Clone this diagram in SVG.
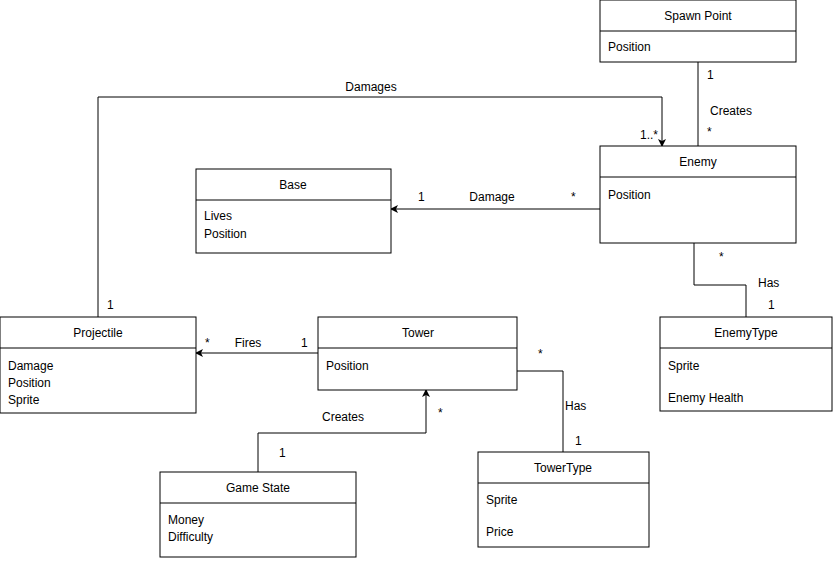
<svg xmlns="http://www.w3.org/2000/svg" width="834" height="563" viewBox="0 0 834 563">
<style>
rect{fill:#fff;stroke:#000;stroke-width:1}
.h{stroke:#000;stroke-width:1}
text{font-family:"Liberation Sans",Arial,sans-serif;font-size:12px;fill:#000}
.c{text-anchor:middle}
.e{fill:none;stroke:#000;stroke-width:1}
</style>
<defs><marker id="a" markerWidth="8" markerHeight="8" refX="7" refY="4" orient="auto" markerUnits="userSpaceOnUse"><path d="M0,0 L8,4 L0,8 L2,4 Z" fill="#000"/></marker></defs>
<rect x="0" y="0" width="834" height="563" style="stroke:none"/>
<g id="connectors">
<path class="e" d="M698,62 V146"/>
<path class="e" d="M98,317 V97 H662 V146" marker-end="url(#a)"/>
<path class="e" d="M600,209 H391" marker-end="url(#a)"/>
<path class="e" d="M694,243 V285 H746 V317"/>
<path class="e" d="M318,353 H196" marker-end="url(#a)"/>
<path class="e" d="M517,371 H563 V452"/>
<path class="e" d="M258,472 V433 H426 V390" marker-end="url(#a)"/>
<text x="707" y="79">1</text><text x="710" y="115">Creates</text><text x="707" y="136">*</text>
<text x="371" y="91" class="c">Damages</text><text x="640" y="139">1..*</text><text x="107" y="309">1</text>
<text x="418" y="201">1</text><text x="492" y="201" class="c">Damage</text><text x="571" y="201">*</text>
<text x="719" y="261">*</text><text x="758" y="287">Has</text><text x="768" y="309">1</text>
<text x="205" y="347">*</text><text x="248" y="347" class="c">Fires</text><text x="301" y="347">1</text>
<text x="538" y="358">*</text><text x="565" y="410">Has</text><text x="575" y="445">1</text>
<text x="343" y="421" class="c">Creates</text><text x="438" y="417">*</text><text x="279" y="457">1</text>
</g>
<g id="spawn"><rect x="600" y="0" width="196" height="62"/><line class="h" x1="600" y1="31" x2="796" y2="31"/><text x="698" y="20" class="c">Spawn Point</text><text x="608" y="51">Position</text></g>
<g id="enemy"><rect x="600" y="146" width="196" height="97"/><line class="h" x1="600" y1="177" x2="796" y2="177"/><text x="698" y="166" class="c">Enemy</text><text x="608" y="199">Position</text></g>
<g id="base"><rect x="196" y="169" width="195" height="84"/><line class="h" x1="196" y1="200" x2="391" y2="200"/><text x="293" y="189" class="c">Base</text><text x="204" y="220">Lives</text><text x="204" y="238">Position</text></g>
<g id="projectile"><rect x="0" y="317" width="196" height="96"/><line class="h" x1="0" y1="348" x2="196" y2="348"/><text x="98" y="337" class="c">Projectile</text><text x="8" y="370">Damage</text><text x="8" y="387">Position</text><text x="8" y="404">Sprite</text></g>
<g id="tower"><rect x="318" y="317" width="199" height="73"/><line class="h" x1="318" y1="348" x2="517" y2="348"/><text x="418" y="337" class="c">Tower</text><text x="326" y="370">Position</text></g>
<g id="enemytype"><rect x="660" y="317" width="172" height="94"/><line class="h" x1="660" y1="348" x2="832" y2="348"/><text x="746" y="337" class="c">EnemyType</text><text x="668" y="370">Sprite</text><text x="668" y="402">Enemy Health</text></g>
<g id="gamestate"><rect x="160" y="472" width="196" height="85"/><line class="h" x1="160" y1="503" x2="356" y2="503"/><text x="258" y="492" class="c">Game State</text><text x="168" y="524">Money</text><text x="168" y="541">Difficulty</text></g>
<g id="towertype"><rect x="478" y="452" width="171" height="95"/><line class="h" x1="478" y1="483" x2="649" y2="483"/><text x="563" y="472" class="c">TowerType</text><text x="486" y="504">Sprite</text><text x="486" y="536">Price</text></g>
</svg>
